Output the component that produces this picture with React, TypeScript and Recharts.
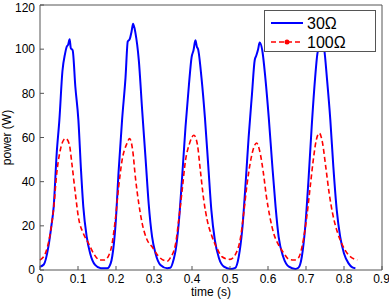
import React from 'react'
import { LineChart, Line, XAxis, YAxis, Legend } from 'recharts'

// 30 ohm load, time (s) / power (W)
const blueTime = [
  0, 0.01, 0.022, 0.03, 0.036, 0.044, 0.051, 0.059, 0.066, 0.07, 0.074, 0.078, 0.081, 0.086, 0.093,
  0.101, 0.108, 0.114, 0.123, 0.132, 0.145, 0.16, 0.177, 0.186, 0.19, 0.199, 0.207, 0.216, 0.225,
  0.231, 0.236, 0.241, 0.245, 0.251, 0.26, 0.269, 0.278, 0.286, 0.295, 0.304, 0.317, 0.335, 0.343,
  0.352, 0.357, 0.365, 0.374, 0.383, 0.392, 0.399, 0.404, 0.409, 0.413, 0.416, 0.425, 0.434, 0.443,
  0.451, 0.46, 0.471, 0.484, 0.501, 0.514, 0.523, 0.532, 0.541, 0.549, 0.558, 0.565, 0.569, 0.574,
  0.578, 0.585, 0.593, 0.602, 0.611, 0.62, 0.628, 0.64, 0.655, 0.672, 0.68, 0.689, 0.698, 0.707,
  0.715, 0.724, 0.73, 0.737, 0.743, 0.748, 0.755, 0.764, 0.772, 0.781, 0.79, 0.8, 0.812, 0.822, 0.83,
]
const bluePower = [
  1.5, 2.5, 10.5, 20, 28.6, 53, 68, 90, 98, 101, 102, 104.5, 100.5, 99.5, 83,
  68, 45, 28.6, 15, 7.5, 2.3, 0.8, 0.8, 3, 6, 21, 45, 68, 87,
  103.5, 104.5, 108, 111.5, 107.5, 95, 72, 50, 30, 15, 7.5, 2.3, 0.8, 1,
  5, 9, 21, 42, 65, 84, 96.4, 99.5, 104, 101, 100, 87, 69, 46.7,
  27, 13.6, 5.3, 1.5, 0.5, 1, 6, 18, 39, 60, 80, 95, 97, 100,
  103, 99.4, 87, 69, 48, 28.6, 15, 6, 1.5, 0.5, 1, 6, 19.6, 42,
  65, 87, 98, 102, 104, 100, 87, 68, 46.7, 27, 15, 7.5, 3, 1.2, 0.8,
]

// 100 ohm load
const redTime = [
  0, 0.014, 0.027, 0.036, 0.044, 0.053, 0.062, 0.068, 0.077, 0.084, 0.093, 0.101, 0.114, 0.128,
  0.141, 0.158, 0.17, 0.186, 0.199, 0.207, 0.216, 0.228, 0.236, 0.244, 0.251, 0.26, 0.269, 0.282,
  0.295, 0.313, 0.335, 0.343, 0.357, 0.365, 0.374, 0.383, 0.393, 0.405, 0.414, 0.422, 0.431, 0.44,
  0.453, 0.466, 0.479, 0.5, 0.514, 0.528, 0.536, 0.545, 0.556, 0.57, 0.578, 0.587, 0.596, 0.605,
  0.615, 0.628, 0.642, 0.655, 0.668, 0.68, 0.693, 0.702, 0.711, 0.72, 0.727, 0.735, 0.743, 0.752,
  0.761, 0.77, 0.781, 0.794, 0.812, 0.835,
]
const redPower = [
  4.5, 7.5, 16.6, 28, 43.7, 54, 58.8, 59.5, 57, 48, 34.7, 24, 16.6, 12,
  7.5, 4.5, 4.5, 9, 24, 37.6, 49.7, 57, 59.5, 54, 42, 30, 21, 13.6,
  10.5, 6, 4, 5.5, 12, 22.6, 36, 49.7, 57, 61, 57, 45, 31.6, 22.6,
  15, 9.8, 6, 4.8, 7, 15, 25.6, 39, 51, 57.5, 54, 45, 33, 24,
  16.6, 11.3, 7.5, 4.8, 4.5, 5.5, 13.6, 24, 37.6, 51, 58.8, 62, 58, 46.7,
  34.7, 25.6, 18, 12, 6.8, 4.5,
]

const xTicks = [0, 0.1, 0.2, 0.3, 0.4, 0.5, 0.6, 0.7, 0.8, 0.9]
const yTicks = [0, 20, 40, 60, 80, 100, 120]

const seriesNames = ['30Ω', '100Ω']

const blueData = blueTime.map((t, i) => ({ t, p: bluePower[i] }))
const redData = redTime.map((t, i) => ({ t, p: redPower[i] }))

const FONT = '"Liberation Sans", Arial, Helvetica, sans-serif'
const AXIS = '#555'

const LegendBox = () => (
  <div
    style={{
      width: 110,
      height: 40,
      background: '#fff',
      border: `1px solid ${AXIS}`,
      fontFamily: FONT,
      fontSize: 16,
      color: '#000',
    }}
  >
    <svg width={110} height={40} style={{ display: 'block' }}>
      <line x1={6} x2={38} y1={12} y2={12} stroke="#0000ff" strokeWidth={2} />
      <text x={42} y={18} fontSize={16} fontFamily={FONT}>
        {seriesNames[0]}
      </text>
      <line x1={6} x2={38} y1={31} y2={31} stroke="#ff0000" strokeWidth={1.5} strokeDasharray="5 3" />
      <circle cx={22} cy={31} r={2.5} fill="#ff0000" />
      <text x={42} y={37} fontSize={16} fontFamily={FONT}>
        {seriesNames[1]}
      </text>
    </svg>
  </div>
)

export default function App() {
  const tickStyle = { fill: '#000', fontSize: 12, fontFamily: FONT }
  return (
    <div style={{ width: 389, height: 303, background: '#fff' }}>
      <style>{'body{margin:0}'}</style>
      <LineChart
        width={389}
        height={303}
        margin={{ top: 4, right: 6, bottom: 0, left: 0 }}
        style={{ fontFamily: FONT }}
      >
        <XAxis
          dataKey="t"
          type="number"
          domain={[0, 0.9]}
          ticks={xTicks}
          allowDuplicatedCategory={false}
          height={33}
          stroke={AXIS}
          tickSize={-4}
          tickMargin={8}
          tick={tickStyle}
          label={{ value: 'time (s)', position: 'insideBottom', offset: 7, fill: '#000', fontSize: 12 }}
        />
        <XAxis
          xAxisId="top"
          orientation="top"
          dataKey="t"
          type="number"
          domain={[0, 0.9]}
          ticks={xTicks}
          allowDuplicatedCategory={false}
          height={1}
          stroke={AXIS}
          tickSize={-4}
          tick={false}
        />
        <YAxis
          type="number"
          domain={[0, 120]}
          ticks={yTicks}
          width={40}
          stroke={AXIS}
          tickSize={-4}
          tickMargin={9}
          tick={tickStyle}
          label={{
            value: 'power (W)',
            angle: -90,
            position: 'insideLeft',
            offset: 7,
            fill: '#000',
            fontSize: 12,
            style: { textAnchor: 'middle' },
          }}
        />
        <YAxis
          yAxisId="right"
          orientation="right"
          type="number"
          domain={[0, 120]}
          ticks={yTicks}
          width={1}
          stroke={AXIS}
          tickSize={-4}
          tick={false}
        />
        <Line
          data={blueData}
          dataKey="p"
          type="monotone"
          stroke="#0000ff"
          strokeWidth={2}
          dot={false}
          isAnimationActive={false}
        />
        {/* same domains on both axis pairs, so the red trace maps identically */}
        <Line
          data={redData}
          dataKey="p"
          xAxisId="top"
          yAxisId="right"
          type="monotone"
          stroke="#ff0000"
          strokeWidth={1.6}
          strokeDasharray="5 3"
          dot={false}
          isAnimationActive={false}
        />
        <Legend
          layout="vertical"
          align="center"
          verticalAlign="middle"
          content={() => <LegendBox />}
          wrapperStyle={{ top: 10, left: 264, width: 112, height: 42 }}
        />
      </LineChart>
    </div>
  )
}
